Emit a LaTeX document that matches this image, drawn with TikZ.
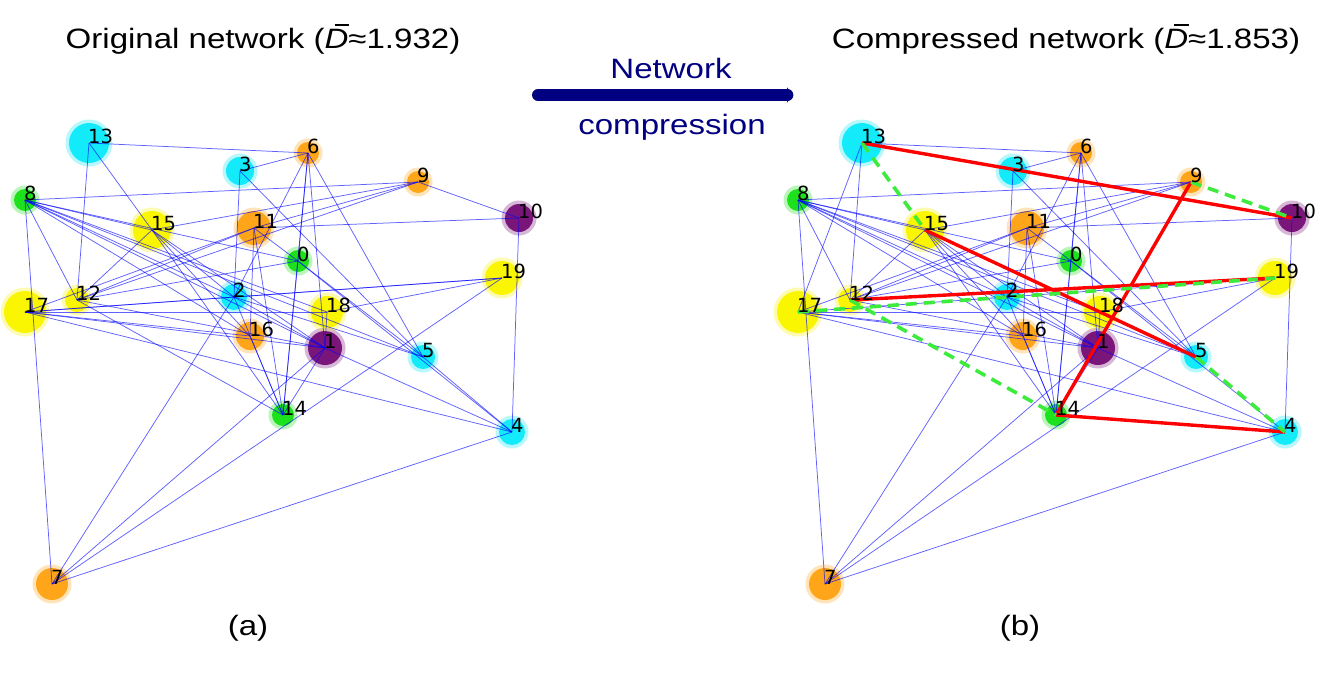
\documentclass[tikz,border=0pt]{standalone}
\usepackage{fontspec}
\setmainfont{Liberation Sans}
\newfontfamily\lblfont{DejaVu Sans}
\usetikzlibrary{arrows.meta}
\definecolor{ncyan}{RGB}{20,235,250}
\definecolor{norange}{RGB}{255,165,25}
\definecolor{nyellow}{RGB}{250,245,0}
\definecolor{ngreen}{RGB}{30,225,30}
\definecolor{npurple}{RGB}{122,22,122}
\definecolor{navyc}{RGB}{0,0,128}
\definecolor{dgreen}{RGB}{60,235,60}
\newcommand{\stretchtxt}[1]{\scalebox{1.18}[1]{#1}}
\newcommand{\dbarsym}{\makebox[0pt][l]{\hspace{0.3em}\rule[0.78em]{0.45em}{0.07em}}\textit{D}}
\begin{document}
\begin{tikzpicture}[x=1pt,y=-1pt,
 gnode/.style={circle,inner sep=0pt,draw=none},
 glabel/.style={anchor=base west,inner sep=0pt,font=\lblfont\fontsize{19.5}{20}\selectfont},
 edge/.style={blue,opacity=0.62,line width=0.75pt},
 addedge/.style={red,line width=3.4pt},
 remedge/.style={dgreen,line width=3.6pt,dash pattern=on 11pt off 7pt},
 title/.style={font=\fontsize{28}{30}\selectfont,inner sep=0pt,anchor=base}]
\useasboundingbox (0,0) rectangle (1317,675);
\fill[white] (0,0) rectangle (1317,675);
\foreach \i/\x/\y/\r/\c in {0/298/261/11/ngreen,1/325/348/17/npurple,2/234/297/13/ncyan,3/240/171/14/ncyan,4/512/432/13/ncyan,5/423/357/12/ncyan,6/308/153/11/norange,7/52/584/16/norange,8/25/200/11/ngreen,9/418/182/11/norange,10/519/218/14/npurple,11/254/228/17/norange,12/77/300/12/nyellow,13/89/143/20/ncyan,14/283/415/11/ngreen,15/152/230/19/nyellow,16/250/336/14/norange,17/25/312/21/nyellow,18/327/312/16/nyellow,19/502/278/17/nyellow}{
  \node[gnode,fill=\c,opacity=0.3,minimum size={2*\r+7}] (ha\i) at (\x,\y) {};
  \node[gnode,fill=\c,minimum size={2*\r}] (a\i) at (\x,\y) {};
  \node[gnode,fill=\c,opacity=0.3,minimum size={2*\r+7}] (hb\i) at (\x+773,\y) {};
  \node[gnode,fill=\c,minimum size={2*\r}] (b\i) at (\x+773,\y) {};
}
\foreach \u/\v in {13/6,13/12,15/14,3/6,3/2,3/5,6/2,6/0,6/1,6/5,6/14,9/8,9/15,9/11,9/12,10/11,10/4,19/2,19/18,19/7,0/11,0/12,0/5,0/4,0/14,0/8,11/12,11/17,11/14,11/16,8/7,8/12,8/15,8/2,8/18,8/1,8/5,8/16,12/15,12/1,15/16,15/1,15/2,2/1,2/14,2/7,2/5,16/14,17/18,17/16,17/1,17/4,17/2,1/4,1/7,1/14,1/18,7/4}{
  \draw[edge] (a\u.center) -- (a\v.center);
  \draw[edge] (b\u.center) -- (b\v.center);
}
\foreach \u/\v in {13/15,9/10,17/19,12/14,5/4}{
  \draw[edge] (a\u.center) -- (a\v.center);
}
\draw[edge] (b13.center) -- (b17.center);
\foreach \u/\v in {13/10,15/5,12/19,9/14,14/4}{
  \draw[addedge] (b\u.center) -- (b\v.center);
}
\foreach \u/\v in {13/15,9/10,17/19,12/14,5/4}{
  \draw[remedge] (b\u.center) -- (b\v.center);
}
\foreach \i in {0,...,19}{
  \node[glabel] (la\i) at ([xshift=-1pt]a\i.center) {\i};
  \node[glabel] (lb\i) at ([xshift=-1pt]b\i.center) {\i};
}
\node[title] (t1) at (263,48) {\stretchtxt{Original network (\dbarsym≈1.932)}};
\node[title] (t2) at (1066,48) {\stretchtxt{Compressed network (\dbarsym≈1.853)}};
\node[title,text=navyc] (n1) at (671,78) {\stretchtxt{Network}};
\node[title,text=navyc] (n2) at (672,134) {\stretchtxt{compression}};
\coordinate (arrS) at (538,95);
\coordinate (arrE) at (793,95);
\draw[navyc,line width=12pt,line cap=round,-{Triangle[length=6pt,width=15pt]}] (arrS) -- (arrE);
\node[title] (capa) at (248,635) {\stretchtxt{(a)}};
\node[title] (capb) at (1020,635) {\stretchtxt{(b)}};
\end{tikzpicture}
\end{document}
